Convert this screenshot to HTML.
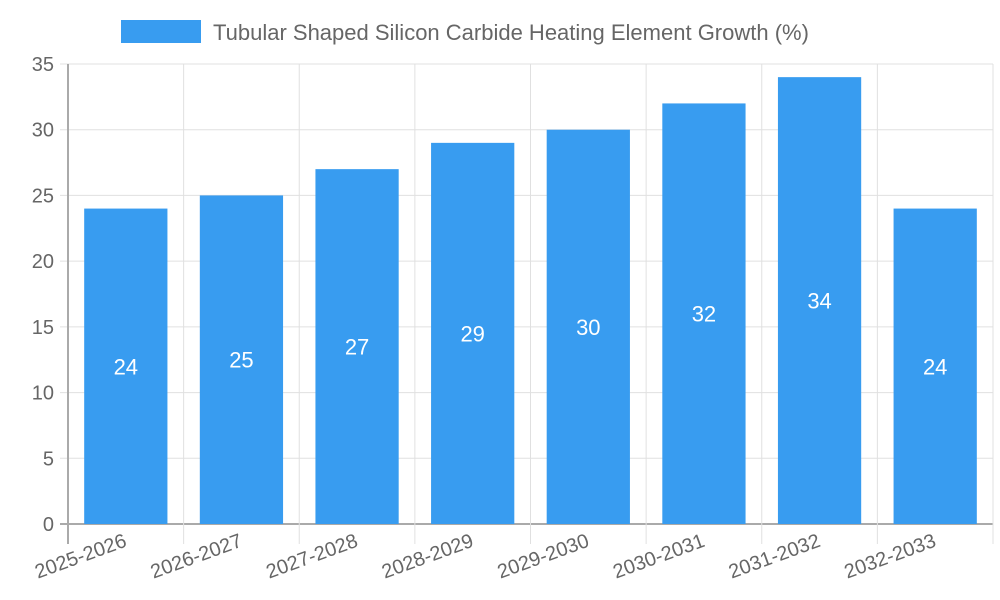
<!DOCTYPE html>
<html><head><meta charset="utf-8"><style>
body{margin:0;background:#fff;}
svg{display:block;font-family:"Liberation Sans",sans-serif;}
</style></head><body>
<svg id="chart" width="1000" height="600">
<g id="legend">
<rect x="121" y="20" width="80" height="23" fill="#389cf0"></rect>
<text x="213" y="40" font-size="22" fill="#666">Tubular Shaped Silicon Carbide Heating Element Growth (%)</text>
</g>
<g id="grid"></g><g id="bars"></g><g id="labels"></g>
</svg>
<script>
const categories=["2025-2026","2026-2027","2027-2028","2028-2029","2029-2030","2030-2031","2031-2032","2032-2033"];
const values=[24,25,27,29,30,32,34,24];
const yTicks=[0,5,10,15,20,25,30,35];
const NS="http://www.w3.org/2000/svg";
const L=68,R=993,T=64,B=524,yMax=35;
const bw=(R-L)/categories.length;
const y=v=>B-(v/yMax)*(B-T);
const x=i=>L+bw*i;
function mk(tag,attrs,parent,txt){const e=document.createElementNS(NS,tag);for(const k in attrs)e.setAttribute(k,attrs[k]);if(txt!==undefined)e.textContent=txt;parent.appendChild(e);return e;}
const g=document.getElementById('grid'),bg=document.getElementById('bars'),lg=document.getElementById('labels');
yTicks.forEach(t=>{
 const ln=mk('line',{x1:L-8,x2:R,y1:y(t),y2:y(t),stroke:t===0?'#aaa':'#e0e0e0','stroke-width':t===0?2:1},g);
 
 
 const tx=mk('text',{x:L-14,y:y(t)+7,'text-anchor':'end','font-size':20,fill:'#666'},g,t);
 
 
});
for(let i=0;i<=categories.length;i++){
 const ln=mk('line',{x1:x(i),x2:x(i),y1:T,y2:B+20,stroke:i===0?'#aaa':'#e0e0e0','stroke-width':i===0?2:1},g);
 
 
}
categories.forEach((c,i)=>{
 const cx=x(i)+bw/2,w=bw*0.72;
 const r=mk('rect',{x:cx-w/2,y:y(values[i]),width:w,height:B-y(values[i]),fill:'#389cf0'},bg);
 
 
 const v=mk('text',{x:cx,y:(y(values[i])+B)/2+8,'text-anchor':'middle','font-size':22,fill:'#fff'},lg,values[i]);
 
 
 const t=mk('text',{x:cx+2,y:B+22,'text-anchor':'end','font-size':20,fill:'#666',transform:`rotate(-20 ${cx+2} ${B+22})`},lg,c);
 
 
});
</script>
</body></html>
